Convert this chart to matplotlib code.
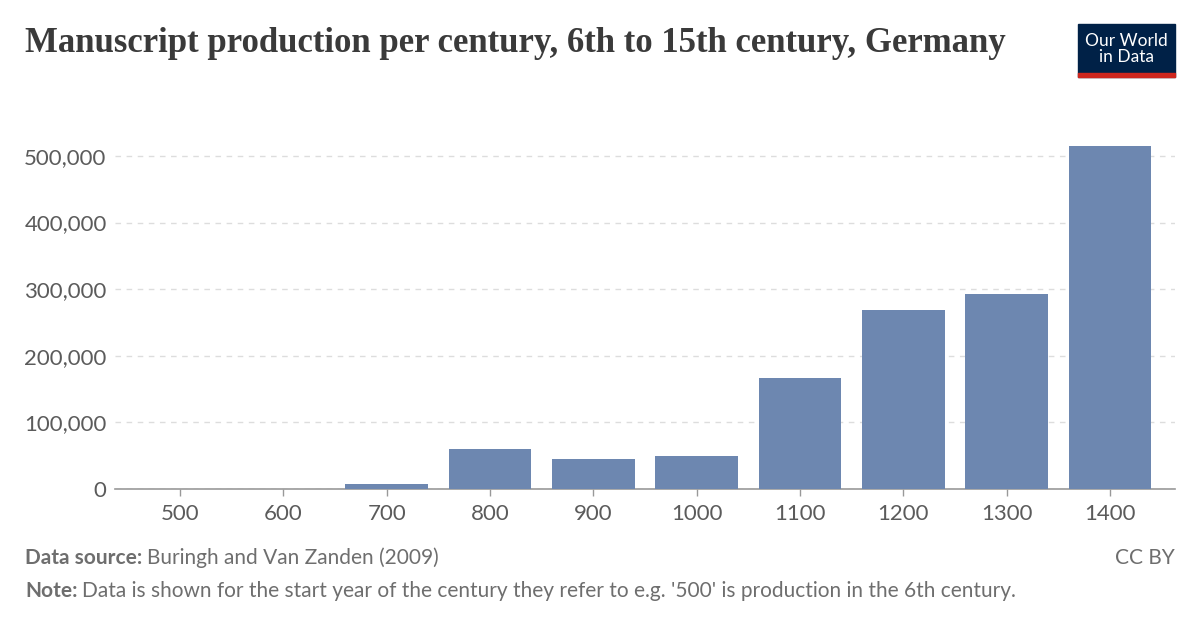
import matplotlib.pyplot as plt
from matplotlib.patches import Rectangle
from matplotlib.ticker import FuncFormatter

# Manuscript production per century, Germany (start year of century)
years = [500, 600, 700, 800, 900, 1000, 1100, 1200, 1300, 1400]
manuscripts = [0, 0, 7500, 60000, 45000, 49500, 167000, 269000, 293000, 514500]
yticks = [0, 100000, 200000, 300000, 400000, 500000]

title = "Manuscript production per century, 6th to 15th century, Germany"
source = "Buringh and Van Zanden (2009)"
note = "Data is shown for the start year of the century they refer to e.g. '500' is production in the 6th century."

bar_color = "#6d87b0"
grey = "#5b5b5b"
foot = "#6e6e6e"

plt.rcParams['font.family'] = ['Lato', 'DejaVu Sans']

fig = plt.figure(figsize=(12, 6.27), dpi=100)
ax = fig.add_axes([115 / 1200, 1 - 489 / 627, 1060 / 1200, (489 - 146) / 627])

x = list(range(len(years)))
ax.bar(x, manuscripts, width=0.8, color=bar_color, zorder=3)

ax.set_xlim(-0.63, len(years) - 0.37)
ax.set_ylim(0, 515000)
ax.set_xticks(x)
ax.set_xticklabels([str(y) for y in years])
ax.set_yticks(yticks)
ax.yaxis.set_major_formatter(FuncFormatter(lambda v, p: f"{int(v):,}"))

ax.grid(axis='y', color='#dddddd', linestyle=(0, (4, 4)), linewidth=1, zorder=0)
for s in ['top', 'right', 'left']:
    ax.spines[s].set_visible(False)
ax.spines['bottom'].set_color('#999999')
ax.spines['bottom'].set_linewidth(1.2)
ax.tick_params(axis='x', colors='#999999', length=5, width=1, labelsize=16, labelcolor=grey, pad=6)
ax.tick_params(axis='y', length=0, labelsize=16, labelcolor=grey, pad=6)

fig.text(25 / 1200, 1 - 43 / 627, title, fontsize=25, fontweight='bold',
         family=['Liberation Serif', 'DejaVu Serif'], color='#3a3a3a', va='center')


def label_line(y, bold, rest):
    t = fig.text(25 / 1200, y, bold, fontsize=15, fontweight='bold', color=foot, va='center')
    fig.canvas.draw()
    bb = t.get_window_extent().transformed(fig.transFigure.inverted())
    fig.text(bb.x1 + 5 / 1200, y, rest, fontsize=15, color=foot, va='center')


label_line(1 - 558 / 627, "Data source:", source)
label_line(1 - 591 / 627, "Note:", note)
fig.text(1175 / 1200, 1 - 558 / 627, "CC BY", fontsize=15, color=foot, va='center', ha='right')

# logo
fig.patches.append(Rectangle((1078 / 1200, 1 - 77 / 627), 97 / 1200, 53 / 627,
                             transform=fig.transFigure, color='#002147'))
fig.patches.append(Rectangle((1078 / 1200, 1 - 77 / 627), 97 / 1200, 4 / 627,
                             transform=fig.transFigure, color='#ce261e'))
fig.text(1126.5 / 1200, 1 - 49 / 627, "Our World\nin Data", fontsize=12.5, color='white',
         ha='center', va='center', linespacing=1.0)

fig.savefig('out.png', dpi=100)
